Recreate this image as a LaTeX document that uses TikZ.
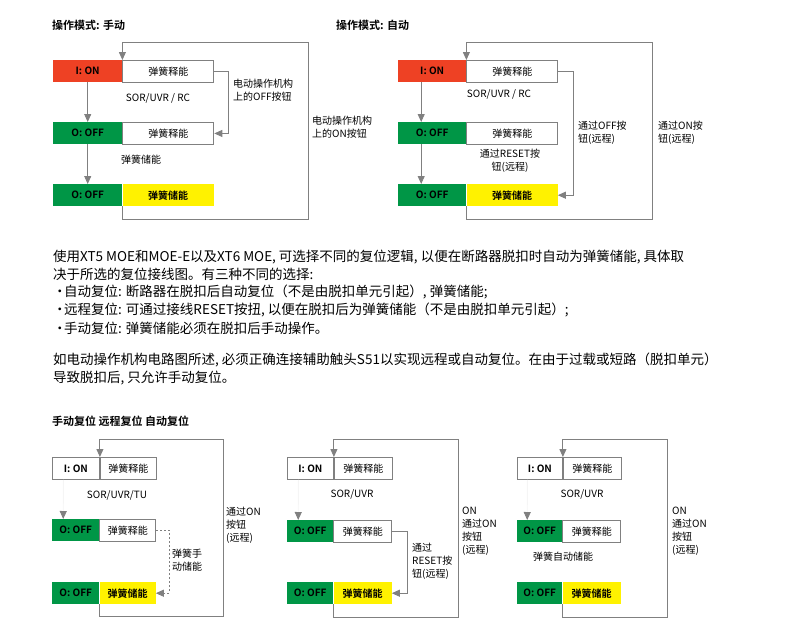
\documentclass[tikz,border=0pt]{standalone}
\usepackage{fontspec}
\setmainfont{Noto Sans CJK SC}[BoldFont={* Bold}]
\usetikzlibrary{arrows.meta}

\definecolor{rojo}{RGB}{238,65,36}
\definecolor{verde}{RGB}{0,150,70}
\definecolor{amarillo}{RGB}{255,242,0}
\definecolor{linea}{RGB}{128,128,128}

\tikzset{
    caja/.style={draw=linea, line width=0.9pt, fill=white, minimum height=22pt, inner sep=0pt, anchor=north west, font=\fontsize{10}{12}\selectfont},
    estado/.style={minimum height=22pt, inner sep=0pt, anchor=north west, font=\fontsize{10}{12}\selectfont\bfseries},
    flecha/.style={draw=linea, line width=0.9pt, -{Triangle[length=8pt,width=7pt]}},
    flechatenue/.style={draw=black!4, line width=0.9pt, -{Triangle[length=8pt,width=7pt,color=linea]}},
    etiqueta/.style={font=\fontsize{10}{13}\selectfont, align=left, anchor=west, inner sep=0pt},
    titulo/.style={font=\fontsize{11}{13}\selectfont\bfseries, anchor=west, inner sep=0pt},
    parrafo/.style={font=\fontsize{13.5}{16}\selectfont, anchor=west, inner sep=0pt},
}

\begin{document}
\begin{tikzpicture}[x=1pt, y=-1pt]
    \useasboundingbox (0,0) rectangle (800,635);

    % Modo manual
    \node[titulo] (t1) at (52,25) {操作模式: 手动};
    \node[estado, fill=rojo, minimum width=69pt] (on1) at (53,60) {I: ON};
    \node[caja, minimum width=91pt] (lib1) at (on1.north east) {弹簧释能};
    \node[estado, fill=verde, minimum width=69pt] (off1) at (53,122) {O: OFF};
    \node[caja, minimum width=91pt] (lib1b) at (off1.north east) {弹簧释能};
    \node[estado, fill=verde, minimum width=69pt] (carga1) at (53,184) {O: OFF};
    \node[estado, fill=amarillo, minimum width=91pt] (alm1) at (carga1.north east) {弹簧储能};

    \draw[flecha] (on1) -- (off1);
    \draw[flecha] (off1) -- (carga1);
    \draw[flecha] (lib1.east) -- ++(14,0) |- (lib1b.east);
    \draw[flecha] (alm1.south west) |- (308,219) -- (308,42) -| (on1.north east);

    \node[etiqueta, anchor=center] (sor1) at (158,98) {SOR/UVR / RC};
    \node[etiqueta] (boff1) at (233,90) {电动操作机构\\上的OFF按钮};
    \node[etiqueta] (carg1) at (121,160) {弹簧储能};
    \node[etiqueta] (bon1) at (312,127) {电动操作机构\\上的ON按钮};

    % Modo automatico
    \node[titulo] (t2) at (336,25) {操作模式: 自动};
    \node[estado, fill=rojo, minimum width=68pt] (on2) at (398,60) {I: ON};
    \node[caja, minimum width=91pt] (lib2) at (on2.north east) {弹簧释能};
    \node[estado, fill=verde, minimum width=68pt] (off2) at (398,122) {O: OFF};
    \node[caja, minimum width=91pt] (lib2b) at (off2.north east) {弹簧释能};
    \node[estado, fill=verde, minimum width=68pt] (carga2) at (398,184) {O: OFF};
    \node[estado, fill=amarillo, minimum width=91pt] (alm2) at (carga2.north east) {弹簧储能};

    \draw[flecha] ([xshift=-11pt]on2.south) -- ([xshift=-11pt]off2.north);
    \draw[flecha] ([xshift=-11pt]off2.south) -- ([xshift=-11pt]carga2.north);
    \draw[flecha] (lib2.east) -- ++(15,0) |- (alm2.east);
    \draw[flecha] (alm2.south west) |- (652,219) -- (652,42) -| (on2.north east);

    \node[etiqueta, anchor=center] (sor2) at (499,94) {SOR/UVR / RC};
    \node[etiqueta, anchor=center, align=center] (reset2) at (510,161) {通过RESET按\\钮(远程)};
    \node[etiqueta] (boff2) at (578,133) {通过OFF按\\钮(远程)};
    \node[etiqueta] (bon2) at (658,133) {通过ON按\\钮(远程)};

    % Texto
    \node[parrafo] (p1) at (53,257) {使用XT5 MOE和MOE-E以及XT6 MOE, 可选择不同的复位逻辑, 以便在断路器脱扣时自动为弹簧储能, 具体取};
    \node[parrafo] (p2) at (53,274) {决于所选的复位接线图。有三种不同的选择:};
    \node[parrafo] (p3) at (53,292) {\makebox[11pt][l]{•}自动复位: 断路器在脱扣后自动复位（不是由脱扣单元引起）, 弹簧储能;};
    \node[parrafo] (p4) at (53,310) {\makebox[11pt][l]{•}远程复位: 可通过接线RESET按扭, 以便在脱扣后为弹簧储能（不是由脱扣单元引起）;};
    \node[parrafo] (p5) at (53,328) {\makebox[11pt][l]{•}手动复位: 弹簧储能必须在脱扣后手动操作。};
    \node[parrafo] (p6) at (53,360) {如电动操作机构电路图所述, 必须正确连接辅助触头S51以实现远程或自动复位。在由于过载或短路（脱扣单元）};
    \node[parrafo] (p7) at (53,378) {导致脱扣后, 只允许手动复位。};

    % Tres reposiciones
    \node[titulo] (t3) at (52,421) {手动复位 远程复位 自动复位};

    % Reposicion manual
    \node[caja, font=\fontsize{10}{12}\selectfont\bfseries, minimum width=47pt] (on3) at (52,457) {I: ON};
    \node[caja, minimum width=56pt] (lib3) at (on3.north east) {弹簧释能};
    \node[estado, fill=verde, minimum width=47pt] (off3) at (52,519) {O: OFF};
    \node[caja, minimum width=56pt] (lib3b) at (off3.north east) {弹簧释能};
    \node[estado, fill=verde, minimum width=47pt] (carga3) at (52,582) {O: OFF};
    \node[estado, fill=amarillo, minimum width=56pt] (alm3) at (carga3.north east) {弹簧储能};

    \draw[flechatenue] ([xshift=-12.5pt]on3.south) -- ([xshift=-12.5pt]off3.north);
    \draw[flecha, dash pattern=on 2pt off 2pt] (lib3b.east) -- ++(13,0) |- (alm3.east);
    \draw[flecha] (alm3.south west) |- (223,616) -- (223,439) -| (on3.north east);

    \node[etiqueta, anchor=center] (sor3) at (117,495) {SOR/UVR/TU};
    \node[etiqueta] (man3) at (172,560) {弹簧手\\动储能};
    \node[etiqueta] (bon3) at (226,525) {通过ON\\按钮\\(远程)};

    % Reposicion remota
    \node[caja, font=\fontsize{10}{12}\selectfont\bfseries, minimum width=46pt] (on4) at (287,457) {I: ON};
    \node[caja, minimum width=58pt] (lib4) at (on4.north east) {弹簧释能};
    \node[estado, fill=verde, minimum width=46pt] (off4) at (287,520) {O: OFF};
    \node[caja, minimum width=58pt] (lib4b) at (off4.north east) {弹簧释能};
    \node[estado, fill=verde, minimum width=46pt] (carga4) at (287,582) {O: OFF};
    \node[estado, fill=amarillo, minimum width=58pt] (alm4) at (carga4.north east) {弹簧储能};

    \draw[flechatenue] ([xshift=-12pt]on4.south) -- ([xshift=-12pt]off4.north);
    \draw[flecha] (lib4b.east) -- ++(15,0) |- (alm4.east);
    \draw[flecha] (alm4.south west) |- (458,617) -- (458,439) -| (on4.north east);

    \node[etiqueta, anchor=center] (sor4) at (352,494) {SOR/UVR};
    \node[etiqueta] (reset4) at (412,561) {通过\\RESET按\\钮(远程)};
    \node[etiqueta] (bon4) at (462,531) {ON\\通过ON\\按钮\\(远程)};

    % Reposicion automatica
    \node[caja, font=\fontsize{10}{12}\selectfont\bfseries, minimum width=45pt] (on5) at (517,457) {I: ON};
    \node[caja, minimum width=58pt] (lib5) at (on5.north east) {弹簧释能};
    \node[estado, fill=verde, minimum width=45pt] (off5) at (517,520) {O: OFF};
    \node[caja, minimum width=58pt] (lib5b) at (off5.north east) {弹簧释能};
    \node[estado, fill=verde, minimum width=45pt] (carga5) at (517,582) {O: OFF};
    \node[estado, fill=amarillo, minimum width=58pt] (alm5) at (carga5.north east) {弹簧储能};

    \draw[flechatenue] ([xshift=-12.5pt]on5.south) -- ([xshift=-12.5pt]off5.north);
    \draw[flecha] (alm5.south west) |- (667,617) -- (667,439) -| (on5.north east);

    \node[etiqueta, anchor=center] (sor5) at (582,494) {SOR/UVR};
    \node[etiqueta, anchor=center] (auto5) at (563,557) {弹簧自动储能};
    \node[etiqueta] (bon5) at (672,531) {ON\\通过ON\\按钮\\(远程)};
\end{tikzpicture}
\end{document}
